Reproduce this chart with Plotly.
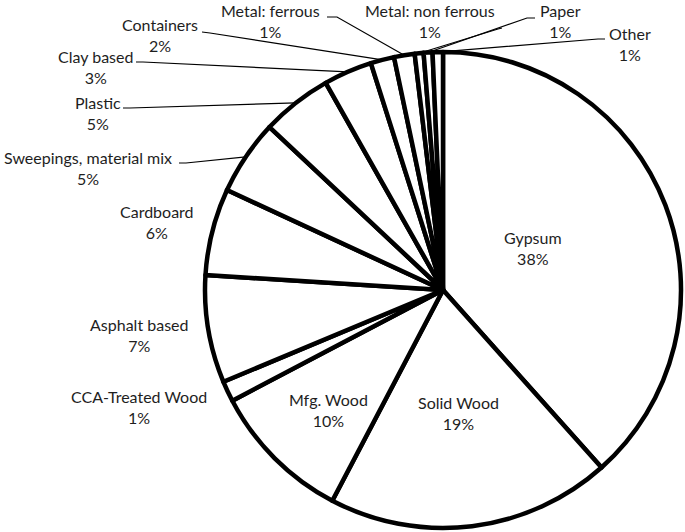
import math
import plotly.graph_objects as go

# ---- data ----
labels = ["Gypsum", "Solid Wood", "Mfg. Wood", "CCA-Treated Wood", "Asphalt based",
          "Cardboard", "Sweepings, material mix", "Plastic", "Clay based", "Containers",
          "Metal: ferrous", "Metal: non ferrous", "Paper", "Other"]
values = [38.4, 19.3, 9.6, 1.4, 7.3, 5.9, 5.1, 4.8, 3.3, 1.6, 1.4, 0.6, 0.6, 0.7]

# ---- layout (label block centres in pixels) ----
label_x_px = [533, 458, 328, 139, 139, 157, 88, 98, 95, 160, 270, 430, 560, 630]
label_y_px = [248, 413, 410, 407, 335, 222, 168, 113, 67, 35, 21, 21, 21, 44]
# leader lines: label-side start point and elbow (pixels); None = no leader
leader_start = [None, None, None, None, None, None,
                ((179, 163), (186, 163)),
                ((123, 108), (130, 108)),
                ((136, 62), (143, 62)),
                ((202, 32), (210, 33)),
                ((327, 17), (337, 17)),
                ((502, 28), (498, 29)),
                ((535, 18), (527, 18)),
                ((605, 39), (598, 39))]

W, H = 685, 532
cx, cy, R = 443, 290, 238
FONT = "Lato, 'Open Sans', sans-serif"
FSIZE = 16


def px2paper(x, y):
    return x / W, 1 - y / H


n = len(labels)
fig = go.Figure(go.Pie(
    labels=labels, values=values, sort=False, direction="clockwise", rotation=0,
    textinfo="none", showlegend=False, hoverinfo="label+percent",
    marker=dict(colors=["white"] * n, line=dict(color="black", width=4.5)),
    domain=dict(x=[(cx - R) / W, (cx + R) / W], y=[1 - (cy + R) / H, 1 - (cy - R) / H]),
))

total = sum(values)
annotations = []
shapes = []
cum = 0.0
for i, (lab, v) in enumerate(zip(labels, values)):
    mid = (cum + v / 2) / total
    cum += v
    th = 2 * math.pi * mid
    ex, ey = cx + R * math.sin(th), cy - R * math.cos(th)
    ax, ay = px2paper(label_x_px[i], label_y_px[i])
    annotations.append(dict(
        x=ax, y=ay, xref="paper", yref="paper", showarrow=False,
        text=f"{lab}<br>{round(v)}%", align="center", xanchor="center", yanchor="middle",
        font=dict(family=FONT, size=FSIZE, color="#1e1e1e"),
    ))
    if leader_start[i] is not None:
        (sx, sy), (bx, by) = leader_start[i]
        p0 = px2paper(sx, sy)
        p1 = px2paper(bx, by)
        p2 = px2paper(ex, ey)
        shapes.append(dict(
            type="path", xref="paper", yref="paper",
            path=f"M {p0[0]},{p0[1]} L {p1[0]},{p1[1]} L {p2[0]},{p2[1]}",
            line=dict(color="black", width=1.2),
        ))

fig.update_layout(
    width=W, height=H, margin=dict(l=0, r=0, t=0, b=0),
    paper_bgcolor="white", plot_bgcolor="white",
    annotations=annotations, shapes=shapes,
    font=dict(family=FONT, size=FSIZE, color="#1e1e1e"),
)

fig.write_html("out.html", config={"displayModeBar": False},
               post_script="document.body.style.margin='0';document.body.style.padding='0';")
